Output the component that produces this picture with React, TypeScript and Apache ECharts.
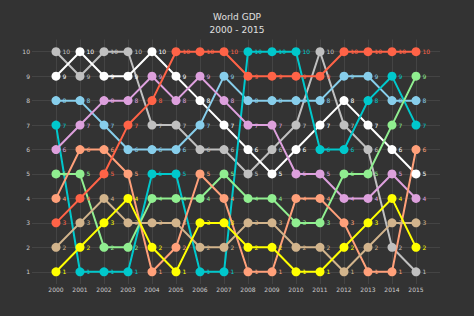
import React, { useEffect, useRef } from "react";
import * as echarts from "echarts";

const years = ["2000","2001","2002","2003","2004","2005","2006","2007","2008","2009","2010","2011","2012","2013","2014","2015"];
const rankLabels = ["1","2","3","4","5","6","7","8","9","10"];

const seriesNames = ["Silver","White","Sky","Teal","Plum","Green","Salmon","Tomato","Tan","Yellow"];
const seriesColors = ["#c0c0c0","#ffffff","#87ceeb","#00c8cc","#dda0dd","#90ee90","#ffa07a","#ff6347","#d2b48c","#ffff00"];

const silver = [10,9,10,10,7,7,6,6,5,6,7,10,7,6,2,1];
const white = [9,10,9,9,10,9,8,7,6,5,6,7,8,7,6,5];
const sky = [8,8,7,6,6,6,7,9,8,8,8,8,9,9,8,8];
const teal = [7,1,1,1,5,5,1,1,10,10,10,6,6,8,9,7];
const plum = [6,7,8,8,9,8,9,8,7,7,5,5,4,4,5,4];
const green = [5,5,2,2,4,4,4,5,4,4,3,3,5,5,7,9];
const salmon = [4,6,6,5,1,2,5,4,1,1,4,4,3,1,1,6];
const tomato = [3,4,5,7,8,10,10,10,9,9,9,9,10,10,10,10];
const tan = [2,3,4,3,3,3,2,2,3,3,2,2,1,2,3,3];
const yellow = [1,2,3,4,2,1,3,3,2,2,1,1,2,3,4,2];

const seriesValues = [silver, white, sky, teal, plum, green, salmon, tomato, tan, yellow];

const xCategories = ["", ...years, " "];

export default function App() {
  const ref = useRef<HTMLDivElement>(null);
  useEffect(() => {
    document.body.style.margin = "0";
    document.body.style.background = "#333333";
    if (!ref.current) return;
    const chart = echarts.init(ref.current, undefined, { renderer: "svg" });
    chart.setOption({
      animation: false,
      backgroundColor: "#333333",
      title: {
        text: "World GDP\n2000 - 2015",
        left: "center",
        top: 6,
        textStyle: {
          color: "#e0e0e0",
          fontSize: 9,
          fontWeight: "normal",
          lineHeight: 12.5,
          fontFamily: "DejaVu Sans",
        },
      },
      grid: { left: 32, right: 34, top: 39.5, bottom: 32, containLabel: false },
      xAxis: {
        type: "category",
        data: xCategories,
        boundaryGap: false,
        axisLine: { show: false },
        axisTick: { show: false },
        axisLabel: { color: "#cccccc", fontSize: 6, margin: 2, fontFamily: "DejaVu Sans", interval: 0 },
        splitLine: {
          show: true,
          interval: (i: number) => i > 0 && i < xCategories.length - 1,
          lineStyle: { color: "#444444", width: 1 },
        },
      },
      yAxis: {
        type: "category",
        data: rankLabels,
        boundaryGap: true,
        axisLine: { show: false },
        axisTick: { show: false },
        axisLabel: { color: "#cccccc", fontSize: 6, margin: 2, fontFamily: "DejaVu Sans" },
        splitLine: {
          show: true,
          alignWithLabel: true,
          lineStyle: { color: "#444444", width: 1 },
        },
      },
      series: seriesValues.map((vals, si) => ({
        name: seriesNames[si],
        type: "line",
        data: vals.map((r, i) => [years[i], String(r)]),
        symbol: "circle",
        symbolSize: 9,
        lineStyle: { width: 2, color: seriesColors[si] },
        itemStyle: { color: seriesColors[si] },
        label: {
          show: true,
          position: "right",
          distance: 2,
          fontSize: 6,
          fontFamily: "DejaVu Sans",
          color: seriesColors[si],
          formatter: (p: any) => p.value[1],
        },
        emphasis: { disabled: true },
      })),
    });
    return () => chart.dispose();
  }, []);
  return <div ref={ref} style={{ width: 474, height: 316 }} />;
}
